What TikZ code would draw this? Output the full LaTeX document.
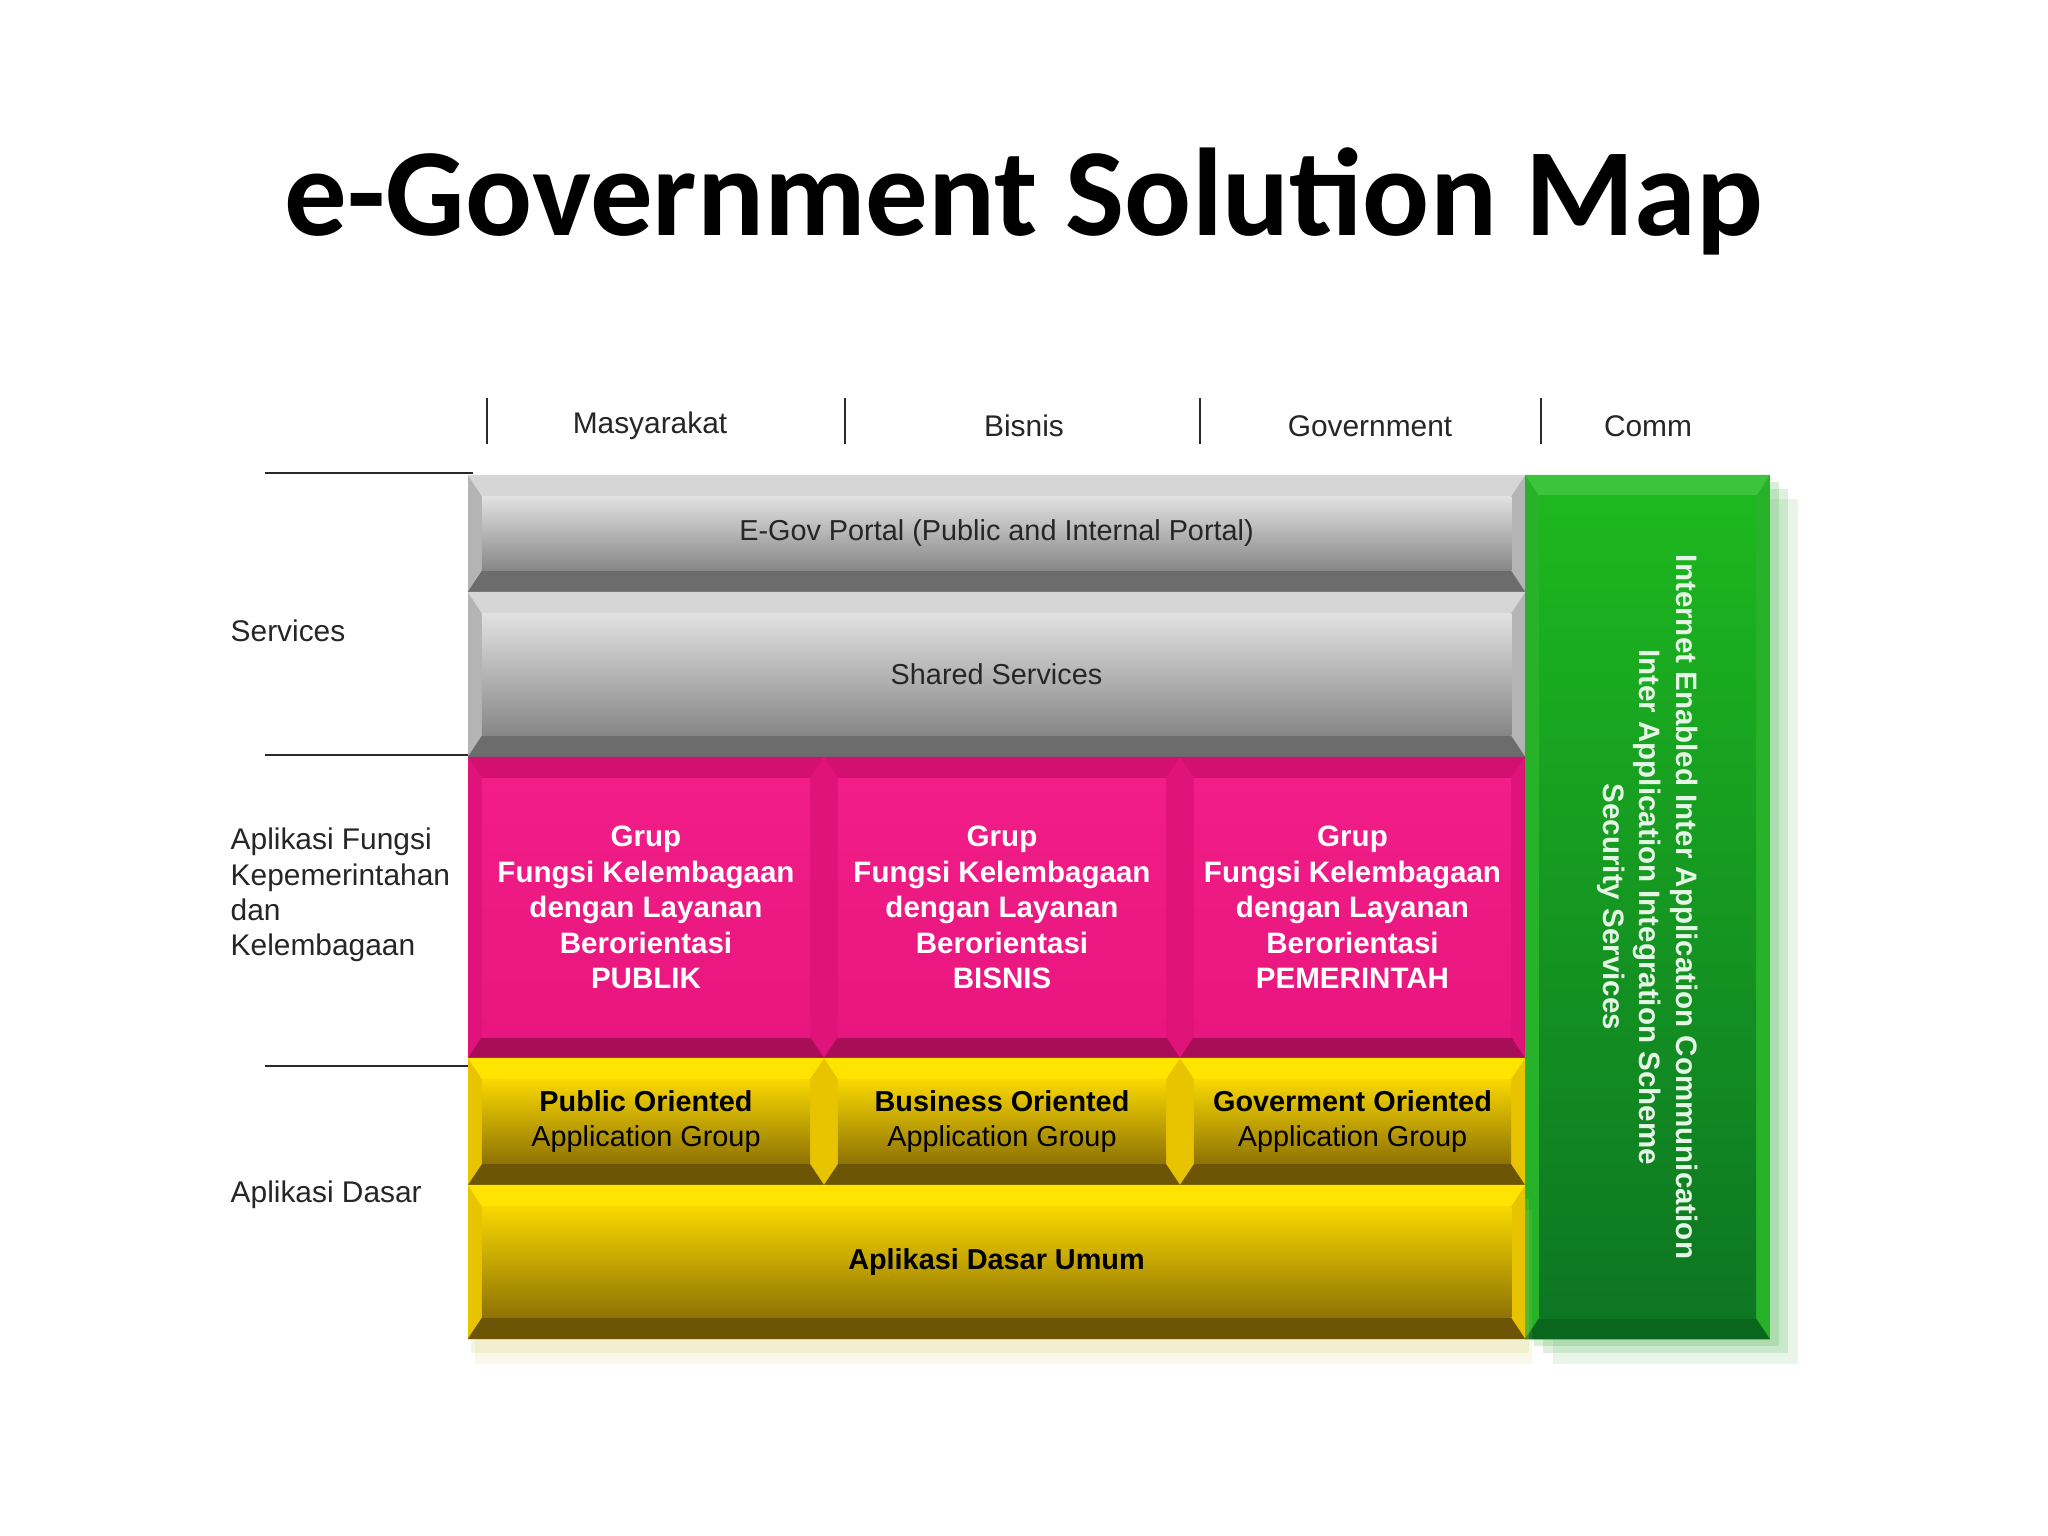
\documentclass[tikz,border=0pt]{standalone}
\usepackage{fontspec}
\setmainfont{Liberation Sans}
\newfontfamily\titlefont{Carlito}
\usetikzlibrary{shadows}
\definecolor{grayhi}{HTML}{D6D6D6}
\definecolor{grayside}{HTML}{B4B4B4}
\definecolor{grayA}{HTML}{E2E2E2}
\definecolor{grayB}{HTML}{868686}
\definecolor{graylo}{HTML}{6C6C6C}
\definecolor{pinkhi}{HTML}{D3106F}
\definecolor{pinkside}{HTML}{E0137A}
\definecolor{pinkA}{HTML}{F21D88}
\definecolor{pinkB}{HTML}{E9167F}
\definecolor{pinklo}{HTML}{A80E58}
\definecolor{yelhi}{HTML}{FFE400}
\definecolor{yelside}{HTML}{E8C400}
\definecolor{yelA}{HTML}{F9D800}
\definecolor{yelB}{HTML}{8E7204}
\definecolor{yello}{HTML}{6C5606}
\definecolor{greenhi}{HTML}{3CC43C}
\definecolor{greenside}{HTML}{28B22A}
\definecolor{greenA}{HTML}{1DB81F}
\definecolor{greenB}{HTML}{0D7623}
\definecolor{greenlo}{HTML}{0A661C}
\definecolor{greenlight}{HTML}{E6F6E6}
\definecolor{rulegray}{HTML}{2A2A2A}
\begin{document}
\begin{tikzpicture}[x=0.01cm, y=-0.01cm,
  slab/.style n args={5}{fill=#2, inner sep=0pt, outer sep=0pt, align=center,
    path picture={
      \fill[#1] (path picture bounding box.north west) -- (path picture bounding box.north east)
        -- ([xshift=-4pt,yshift=-6pt]path picture bounding box.north east)
        -- ([xshift=4pt,yshift=-6pt]path picture bounding box.north west) -- cycle;
      \fill[#5] (path picture bounding box.south west) -- (path picture bounding box.south east)
        -- ([xshift=-4pt,yshift=6pt]path picture bounding box.south east)
        -- ([xshift=4pt,yshift=6pt]path picture bounding box.south west) -- cycle;
      \shade[top color=#3, bottom color=#4]
        ([xshift=4pt,yshift=-6pt]path picture bounding box.north west)
        rectangle ([xshift=-4pt,yshift=6pt]path picture bounding box.south east);
    }},
  graybox/.style={slab={grayhi}{grayside}{grayA}{grayB}{graylo}, text=black!85, font=\fontsize{8.2}{10}\selectfont},
  pinkbox/.style={slab={pinkhi}{pinkside}{pinkA}{pinkB}{pinklo}, text=white, font=\bfseries\fontsize{8.4}{10.1}\selectfont,
    minimum height=3.01cm},
  yelbox/.style={slab={yelhi}{yelside}{yelA}{yelB}{yello}, text=black, font=\fontsize{8.2}{10}\selectfont},
  head/.style={font=\fontsize{8.5}{10}\selectfont, text=black!85},
  side/.style={font=\fontsize{8.5}{10}\selectfont, text=black!85, anchor=west, align=left, inner sep=0pt},
  rule/.style={draw=rulegray, line width=0.8pt}]
\useasboundingbox[fill=white] (0,0) rectangle (2048,1536);
\node[font=\titlefont\bfseries\fontsize{35.5}{40}\selectfont, anchor=base] (title) at (1024,235) {e-Government Solution Map};
\foreach \x in {487,845,1200,1541} \draw[rule] (\x,398) -- (\x,444);
\node[head] (hmas) at (650,426) {Masyarakat};
\node[head] (hbis) at (1024,426) {Bisnis};
\node[head] (hgov) at (1370,426) {Government};
\node[head] (hcom) at (1648,426) {Comm};
\draw[rule] (265,473) -- (473,473);
\draw[rule] (265,755) -- (478,755);
\draw[rule] (265,1066) -- (470,1066);
\node[side] (lserv) at (230,631) {Services};
\node[side] (lfung) at (230,895) {Aplikasi Fungsi\\Kepemerintahan\\dan\\Kelembagaan};
\node[side] (ldas) at (230,1195) {Aplikasi Dasar};
\node[slab={greenhi}{greenside}{greenA}{greenB}{greenlo}, minimum width=2.45cm, minimum height=8.64cm,
  drop shadow={shadow xshift=8pt, shadow yshift=-7pt, fill=green!40!gray, opacity=0.12},
  drop shadow={shadow xshift=5pt, shadow yshift=-4pt, fill=green!40!gray, opacity=0.18},
  drop shadow={shadow xshift=2.5pt, shadow yshift=-2pt, fill=green!40!gray, opacity=0.22}] (comm) at (1647.5,907) {};
\node[rotate=-90, align=center, text=greenlight, font=\bfseries\fontsize{8.4}{10.4}\selectfont] (commtext) at (comm.center)
  {Internet Enabled Inter Application Communication\\Inter Application Integration Scheme\\Security Services};
\node[graybox, minimum width=10.57cm, minimum height=1.17cm] (portal) at (996.5,533.5) {E-Gov Portal (Public and Internal Portal)};
\node[graybox, minimum width=10.57cm, minimum height=1.65cm] (shared) at (996.5,674.5) {Shared Services};
\node[pinkbox, minimum width=3.56cm] (gpub) at (646,907.5) {Grup\\Fungsi Kelembagaan\\dengan Layanan\\Berorientasi\\PUBLIK};
\node[pinkbox, minimum width=3.56cm] (gbis) at (1002,907.5) {Grup\\Fungsi Kelembagaan\\dengan Layanan\\Berorientasi\\BISNIS};
\node[pinkbox, minimum width=3.45cm] (ggov) at (1352.5,907.5) {Grup\\Fungsi Kelembagaan\\dengan Layanan\\Berorientasi\\PEMERINTAH};
\node[yelbox, minimum width=3.56cm, minimum height=1.27cm] (apub) at (646,1121.5) {\textbf{Public Oriented}\\Application Group};
\node[yelbox, minimum width=3.56cm, minimum height=1.27cm] (abis) at (1002,1121.5) {\textbf{Business Oriented}\\Application Group};
\node[yelbox, minimum width=3.45cm, minimum height=1.27cm] (agov) at (1352.5,1121.5) {\textbf{Goverment Oriented}\\Application Group};
\node[yelbox, minimum width=10.57cm, minimum height=1.54cm, font=\bfseries\fontsize{8.2}{10}\selectfont,
  drop shadow={shadow xshift=2pt, shadow yshift=-7pt, fill=yellow!60!gray, opacity=0.12},
  drop shadow={shadow xshift=1pt, shadow yshift=-4pt, fill=yellow!60!gray, opacity=0.18}] (umum) at (996.5,1262) {Aplikasi Dasar Umum};
\end{tikzpicture}
\end{document}
